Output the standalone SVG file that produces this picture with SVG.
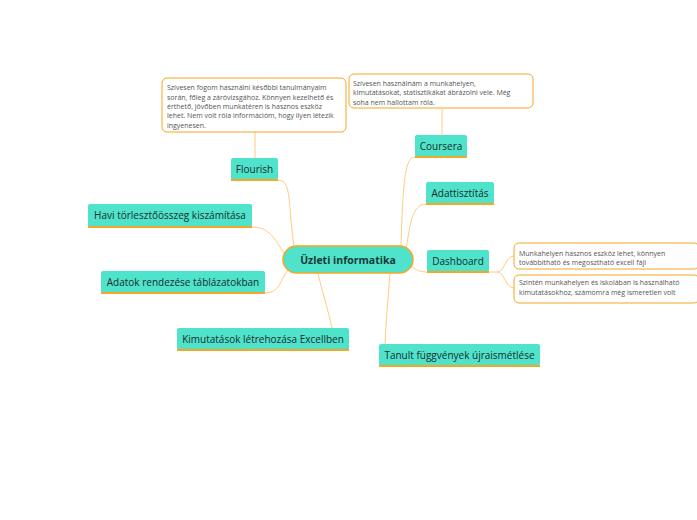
<svg xmlns="http://www.w3.org/2000/svg" width="697" height="520" viewBox="0 0 697 520">
<style>
.node rect.bg{fill:#4fe3cb;}
.ul{stroke:#f5a623;stroke-width:2;fill:none;}
.lbl{font-family:"Open Sans","Noto Sans",sans-serif;font-size:10px;fill:#1b2b2b;}
.ctr{font-family:"Open Sans","Noto Sans",sans-serif;font-size:10.5px;font-weight:bold;fill:#1b3a35;}
.note rect{fill:#fff;stroke:#f5a623;stroke-width:1;}
.nt{font-family:"Open Sans","Noto Sans",sans-serif;font-size:7px;fill:#555;}
.con path{fill:none;stroke:#ffcc80;stroke-width:1;}
</style>
<rect width="697" height="520" fill="#fff"/>
<g id="connectors" class="con">
<path d="M278,180 C292,180 288,205 294,247"/>
<path d="M252,227 C270,227 275,240 284,253"/>
<path d="M265,293 C280,293 280,280 288,270"/>
<path d="M332,328 C328,310 322,290 318,274"/>
<path d="M385,345 C386,320 388,300 390,273"/>
<path d="M415,157 C405,157 403,180 401,247"/>
<path d="M426,204 C412,204 410,225 406,250"/>
<path d="M411,266 C416,270 420,272 427,272"/>
<path d="M489,272 L497,272 C505,272 505,256 514,256"/>
<path d="M497,272 C505,272 505,288 514,288"/>
<path d="M255,132 L255,158"/>
<path d="M442,109 L442,135"/>
</g>
<g id="note-flourish" class="note">
<rect x="162" y="78" width="184" height="54" rx="5"/>
<text class="nt" x="167" y="90">Szívesen fogom használni későbbi tanulmányaim</text>
<text class="nt" x="167" y="100">során, főleg a záróvizsgához. Könnyen kezelhető és</text>
<text class="nt" x="167" y="109">érthető, jövőben munkatéren is hasznos eszköz</text>
<text class="nt" x="167" y="118">lehet. Nem volt róla információm, hogy ilyen létezik</text>
<text class="nt" x="167" y="128">ingyenesen.</text>
</g>
<g id="note-coursera" class="note">
<rect x="349" y="74" width="184" height="34" rx="5"/>
<text class="nt" x="353" y="86">Szívesen használnám a munkahelyen,</text>
<text class="nt" x="353" y="95">kimutatásokat, statisztikákat ábrázolni vele. Még</text>
<text class="nt" x="353" y="105">soha nem hallottam róla.</text>
</g>
<g id="note-dashboard-1" class="note">
<rect x="514" y="243" width="185" height="26" rx="5"/>
<text class="nt" x="519" y="256">Munkahelyen hasznos eszköz lehet, könnyen</text>
<text class="nt" x="519" y="265">továbbítható és megosztható excell fájl</text>
</g>
<g id="note-dashboard-2" class="note">
<rect x="514" y="275" width="185" height="28" rx="5"/>
<text class="nt" x="519" y="285">Szintén munkahelyen és iskolában is használható</text>
<text class="nt" x="519" y="295">kimutatásokhoz, számomra még ismeretlen volt</text>
</g>
<g id="center" class="node">
<rect x="283" y="246" width="130" height="27" rx="13.5" fill="#4fe3cb" stroke="#f5a623" stroke-width="1.5"/>
<text class="ctr" x="348" y="263.5" text-anchor="middle">Üzleti informatika</text>
</g>
<g id="flourish" class="node">
<rect class="bg" x="231" y="158" width="47" height="22" rx="2"/>
<path class="ul" d="M231,180 H278"/>
<text class="lbl" x="254.5" y="172.5" text-anchor="middle">Flourish</text>
</g>
<g id="havi" class="node">
<rect class="bg" x="88" y="204" width="164" height="23" rx="2"/>
<path class="ul" d="M88,227 H252"/>
<text class="lbl" x="170" y="219" text-anchor="middle">Havi törlesztőösszeg kiszámítása</text>
</g>
<g id="adatok" class="node">
<rect class="bg" x="101" y="271" width="164" height="22" rx="2"/>
<path class="ul" d="M101,293 H265"/>
<text class="lbl" x="183" y="285.5" text-anchor="middle">Adatok rendezése táblázatokban</text>
</g>
<g id="kimutatasok" class="node">
<rect class="bg" x="177" y="328" width="172" height="22" rx="2"/>
<path class="ul" d="M177,350 H349"/>
<text class="lbl" x="263" y="342.5" text-anchor="middle">Kimutatások létrehozása Excellben</text>
</g>
<g id="tanult" class="node">
<rect class="bg" x="379" y="344" width="161" height="22" rx="2"/>
<path class="ul" d="M379,366 H540"/>
<text class="lbl" x="459.5" y="358.5" text-anchor="middle">Tanult függvények újraismétlése</text>
</g>
<g id="coursera" class="node">
<rect class="bg" x="415" y="135" width="52" height="22" rx="2"/>
<path class="ul" d="M415,157 H467"/>
<text class="lbl" x="441" y="149.5" text-anchor="middle">Coursera</text>
</g>
<g id="adattisztitas" class="node">
<rect class="bg" x="426" y="182" width="68" height="22" rx="2"/>
<path class="ul" d="M426,204 H494"/>
<text class="lbl" x="460" y="196.5" text-anchor="middle">Adattisztítás</text>
</g>
<g id="dashboard" class="node">
<rect class="bg" x="427" y="250" width="62" height="22" rx="2"/>
<path class="ul" d="M427,272 H489"/>
<text class="lbl" x="458" y="264.5" text-anchor="middle">Dashboard</text>
</g>
</svg>
